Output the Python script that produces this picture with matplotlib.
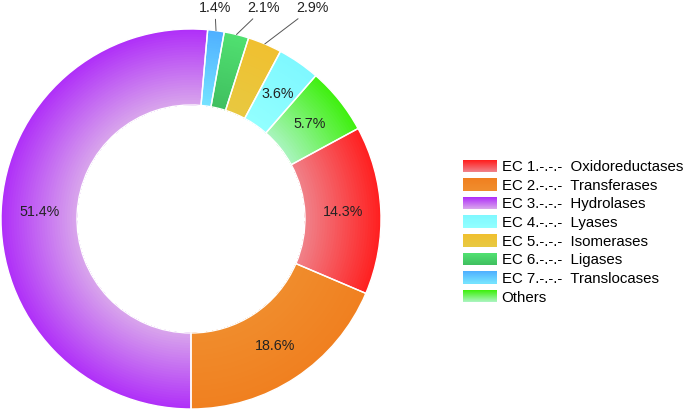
import numpy as np
import matplotlib
matplotlib.use('Agg')
import matplotlib.pyplot as plt
from matplotlib.colors import to_rgb
from matplotlib.patches import Rectangle
from matplotlib.legend_handler import HandlerBase

plt.rcParams['font.family'] = ['Liberation Sans', 'DejaVu Sans']

# ---Data (legend order)
codes = ['EC 1.-.-.-', 'EC 2.-.-.-', 'EC 3.-.-.-', 'EC 4.-.-.-',
         'EC 5.-.-.-', 'EC 6.-.-.-', 'EC 7.-.-.-', 'Others']
names = ['Oxidoreductases', 'Transferases', 'Hydrolases', 'Lyases',
         'Isomerases', 'Ligases', 'Translocases', '']
values = [14.3, 18.6, 51.4, 3.6, 2.9, 2.1, 1.4, 5.7]

# outer / inner colours of the radial gradient
outer_cols = ['#ff2020', '#f08020', '#b030f8', '#7ff8ff',
              '#f0c030', '#50e070', '#50b0ff', '#40f010']
inner_cols = ['#f08088', '#f08c2c', '#d8a4ec', '#92ffff',
              '#e8c840', '#40c060', '#74e2ff', '#a8f4bc']

# order round the ring, counter-clockwise from 6 o'clock
pie_order = [1, 0, 7, 3, 4, 5, 6, 2]

R_IN = 0.6
N_BANDS = 30


def mix(c1, c2, t):
    a = np.array(to_rgb(c1))
    b = np.array(to_rgb(c2))
    return tuple(a * (1 - t) + b * t)


vals = [values[i] for i in pie_order]

fig = plt.figure(figsize=(6.85, 4.11), dpi=100)
ax = fig.add_axes([1 / 685, 2 / 411, 380 / 685, 380 / 411])
ax.set_xlim(-1, 1)
ax.set_ylim(-1, 1)
ax.set_aspect('equal')
ax.axis('off')

# ---Gradient ring: stacked wedges from outside in
for k in range(N_BANDS):
    t = k / (N_BANDS - 1)
    r = 1.0 - (1.0 - R_IN) * k / N_BANDS
    cols = [mix(outer_cols[i], inner_cols[i], t) for i in pie_order]
    ax.pie(vals, radius=r, colors=cols, startangle=-90, counterclock=True,
           wedgeprops=dict(width=r - R_IN, edgecolor='none', linewidth=0))

# ---White separators
wedges, _ = ax.pie(vals, radius=1.0, colors=['none'] * len(vals), startangle=-90,
                   counterclock=True,
                   wedgeprops=dict(width=1.0 - R_IN, edgecolor='white', linewidth=1.0))
ax.set_xlim(-1, 1)
ax.set_ylim(-1, 1)

# ---Percent labels
outside_pos = {6: (0.126, 1.11), 5: (0.384, 1.11), 4: (0.637, 1.11)}
for w, i in zip(wedges, pie_order):
    mid = np.deg2rad((w.theta1 + w.theta2) / 2)
    txt = '%.1f%%' % values[i]
    if i in outside_pos:
        xe, ye = np.cos(mid), np.sin(mid)
        ax.annotate(txt, xy=(xe, ye), xytext=outside_pos[i], ha='center', va='center',
                    fontsize=10.3, color='#222222', annotation_clip=False,
                    arrowprops=dict(arrowstyle='-', color='#555555', lw=0.7,
                                    shrinkA=1, shrinkB=0))
    else:
        ax.text(0.8 * np.cos(mid), 0.8 * np.sin(mid), txt, ha='center', va='center',
                fontsize=10.3, color='#222222')


# ---Legend with gradient boxes
class GradHandler(HandlerBase):
    def __init__(self, c_top, c_bot):
        super().__init__()
        self.c_top = c_top
        self.c_bot = c_bot

    def create_artists(self, legend, orig_handle, xdescent, ydescent,
                       width, height, fontsize, trans):
        arts = []
        n = 12
        for k in range(n):
            t = k / (n - 1)
            y0 = -ydescent + height * (1 - (k + 1) / n)
            arts.append(Rectangle((-xdescent, y0), width, height / n + 0.3,
                                  facecolor=mix(self.c_top, self.c_bot, t),
                                  edgecolor='none', transform=trans))
        return arts


handles = [Rectangle((0, 0), 1, 1) for _ in codes]
labels = [c + '  ' + n if n else c for c, n in zip(codes, names)]
hmap = {h: GradHandler(outer_cols[i], inner_cols[i]) for i, h in enumerate(handles)}
fig.legend(handles, labels, handler_map=hmap, loc='upper left',
           bbox_to_anchor=(463 / 685, 1 - 160 / 411), frameon=False,
           fontsize=10.8, handlelength=2.27, handleheight=0.87, handletextpad=0.3,
           labelspacing=0.29, borderpad=0, borderaxespad=0)

fig.savefig('out.png', dpi=100)
